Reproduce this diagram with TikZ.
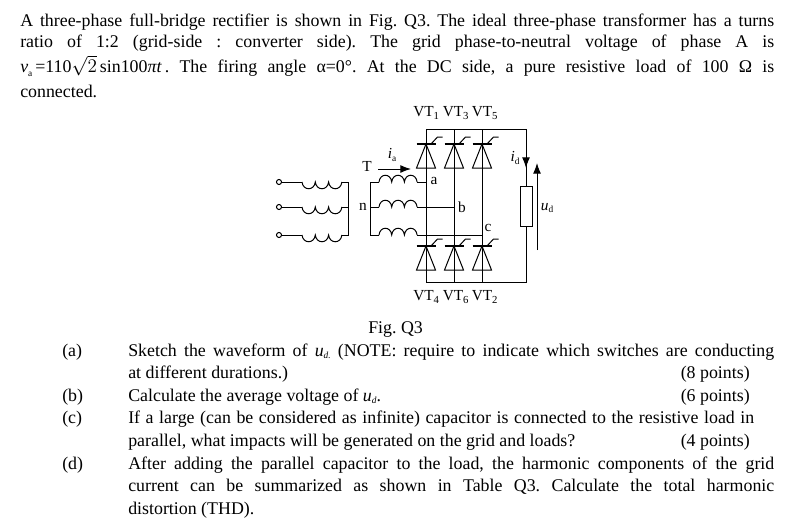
\documentclass[tikz,border=0pt]{standalone}
\usepackage{fontspec}
\setmainfont{Liberation Serif}
\usetikzlibrary{arrows.meta}
\tikzset{
  txt/.style={anchor=base west,inner sep=0pt,font=\fontsize{13.4}{15}\selectfont\frenchspacing},
  lab/.style={inner sep=0pt,font=\fontsize{11.5}{12}\selectfont},
  wire/.style={line width=0.75pt},
  arr/.style={line width=0.75pt,-{Latex[length=8pt,width=6pt]}}
}
% one stretched line of text
\newcommand{\fulline}[5]{\node[txt] (#1) at (#2,#3) {\spaceskip=.18em plus 1fil\relax\makebox[\dimexpr #4pt*3/4\relax][s]{#5}};}
% thyristor with the bar on top, #1 is the point of the bar
\newcommand{\thyr}[1]{
  \draw[line width=1pt] (#1) ++(-9.5,0) -- ++(19,0);
  \draw[wire] (#1) -- ++(-9.5,24) -- ++(19,0) -- cycle;
  \draw[wire] (#1) ++(5,0) -- ++(6.5,-7) -- ++(5,0);
}
% secondary winding, bumps up
\newcommand{\coilup}[1]{
  \draw[wire] (#1) \foreach \i in {1,2,3} {.. controls +(1,-9) and +(-1,-9) .. ++(12.7,0)};
}
% primary winding, bumps down
\newcommand{\coildown}[1]{
  \draw[wire] (#1) \foreach \i in {1,2,3} {.. controls +(1,9) and +(-1,9) .. ++(13.3,0)};
}
\begin{document}
\begin{tikzpicture}[x=0.75pt,y=-0.75pt]
  \useasboundingbox (0,0) rectangle (795,517);
  \fill[white] (0,0) rectangle (795,517);
  %question text
  \fulline{top1}{20}{26.5}{754}{A three-phase full-bridge rectifier is shown in Fig. Q3. The ideal three-phase transformer has a turns}
  \fulline{top2}{20}{48}{754}{ratio of 1:2 (grid-side : converter side). The grid phase-to-neutral voltage of phase A is}
  \fulline{top3}{20}{73}{754}{\textit{v}\raisebox{-3pt}{\scriptsize a}\,=110\smash{$\sqrt{2}$}\,sin100\textit{πt}\,. The firing angle α=0°. At the DC side, a pure resistive load of 100 Ω is}
  \node[txt] (top4) at (20,97) {connected.};
  %
  \coordinate (tl) at (426,129.5);
  \coordinate (tm) at (454,129.5);
  \coordinate (tr) at (482,129.5);
  \coordinate (tload) at (526,129.5);
  \coordinate (bl) at (426,282.5);
  \coordinate (bm) at (454,282.5);
  \coordinate (br) at (482,282.5);
  \coordinate (bload) at (526,282.5);
  \coordinate (a) at (426,182);
  \coordinate (b) at (454,207);
  \coordinate (c) at (482,235);
  \coordinate (sa) at (379,182);
  \coordinate (sb) at (379,207);
  \coordinate (sc) at (379,235);
  \coordinate (ea) at (417,182);
  \coordinate (eb) at (417,207);
  \coordinate (ec) at (417,235);
  \coordinate (na) at (370,182);
  \coordinate (nb) at (370,207);
  \coordinate (nc) at (370,235);
  \coordinate (pa) at (302,182);
  \coordinate (pb) at (302,207);
  \coordinate (pc) at (302,235);
  \coordinate (qa) at (342,182);
  \coordinate (qb) at (342,207);
  \coordinate (qc) at (342,235);
  \coordinate (ra) at (348,182);
  \coordinate (rb) at (348,207);
  \coordinate (rc) at (348,235);
  %bridge
  \draw[wire] (tl) -- (tload) -- (bload) -- (bl) -- cycle;
  \draw[wire] (tm) -- (bm);
  \draw[wire] (tr) -- (br);
  \node[draw,fill=white,wire,minimum width=9pt,minimum height=30.5pt,inner sep=0pt] (rload) at (526,206.5) {};
  \coordinate (t1) at (426,144);
  \coordinate (t3) at (454,144);
  \coordinate (t5) at (482,144);
  \coordinate (t4) at (426,246);
  \coordinate (t6) at (454,246);
  \coordinate (t2) at (482,246);
  \foreach \t in {t1,t3,t5,t4,t6,t2} {\thyr{\t}}
  %windings
  \coilup{sa}
  \coilup{sb}
  \coilup{sc}
  \coildown{pa}
  \coildown{pb}
  \coildown{pc}
  \draw[wire] (sa) -- (na) -- (nc) -- (sc);
  \draw[wire] (nb) -- (sb);
  \draw[wire] (ea) -- (a);
  \draw[wire] (eb) -- (b);
  \draw[wire] (ec) -- (c);
  \draw[wire] (qa) -- (ra) -- (rc) -- (qc);
  \draw[wire] (qb) -- (rb);
  \node[draw,circle,wire,fill=white,minimum size=3.8pt,inner sep=0pt] (ina) at (279,182) {};
  \node[draw,circle,wire,fill=white,minimum size=3.8pt,inner sep=0pt] (inb) at (279,207) {};
  \node[draw,circle,wire,fill=white,minimum size=3.8pt,inner sep=0pt] (inc) at (279,235) {};
  \draw[wire] (ina) -- (pa);
  \draw[wire] (inb) -- (pb);
  \draw[wire] (inc) -- (pc);
  %arrows
  \coordinate (ia1) at (378,169);
  \coordinate (ia2) at (411,169);
  \draw[arr] (ia1) -- (ia2);
  \coordinate (id1) at (526,150);
  \coordinate (id2) at (526,168);
  \draw[arr] (id1) -- (id2);
  \coordinate (ud1) at (537,250);
  \coordinate (ud2) at (537,163);
  \draw[arr] (ud1) -- (ud2);
  %labels
  \node[lab] (vt1) at (426.5,113) {VT\textsubscript{1}};
  \node[lab] (vt3) at (456,113) {VT\textsubscript{3}};
  \node[lab] (vt5) at (485,113) {VT\textsubscript{5}};
  \node[lab] (vt4) at (426.5,297) {VT\textsubscript{4}};
  \node[lab] (vt6) at (456,297) {VT\textsubscript{6}};
  \node[lab] (vt2) at (485,297) {VT\textsubscript{2}};
  \node[lab] (lT) at (367,166) {T};
  \node[lab] (lia) at (392,155) {\textit{i}\raisebox{-2pt}{\scriptsize a}};
  \node[lab] (lid) at (515,158) {\textit{i}\raisebox{-2pt}{\scriptsize d}};
  \node[lab] (lud) at (547,208) {\textit{u}\raisebox{-2pt}{\scriptsize d}};
  \node[lab] (la) at (434,181) {a};
  \node[lab] (lb) at (462,207) {b};
  \node[lab] (lc) at (488,228) {c};
  \node[lab] (ln) at (363,207) {n};
  %parts of the question
  \node[txt] (fig) at (368,333) {Fig. Q3};
  \node[txt] (pa1) at (62,356) {(a)};
  \fulline{qa1}{128}{356}{646}{Sketch the waveform of \textit{u}\textit{\raisebox{-1.5pt}{\scriptsize d.}} (NOTE: require to indicate which switches are conducting}
  \node[txt] (qa2) at (128,378) {at different durations.)};
  \node[txt,anchor=base east] (pts8) at (750,378) {(8 points)};
  \node[txt] (pb1) at (62,401) {(b)};
  \node[txt] (qb1) at (128,401) {Calculate the average voltage of \textit{u}\textit{\raisebox{-1.5pt}{\scriptsize d}}.};
  \node[txt,anchor=base east] (pts6) at (750,401) {(6 points)};
  \node[txt] (pc1) at (62,423) {(c)};
  \fulline{qc1}{128}{423}{626}{If a large (can be considered as infinite) capacitor is connected to the resistive load in}
  \node[txt] (qc2) at (128,446) {parallel, what impacts will be generated on the grid and loads?};
  \node[txt,anchor=base east] (pts4) at (750,446) {(4 points)};
  \node[txt] (pd1) at (62,469) {(d)};
  \fulline{qd1}{128}{469}{646}{After adding the parallel capacitor to the load, the harmonic components of the grid}
  \fulline{qd2}{128}{491}{646}{current can be summarized as shown in Table Q3. Calculate the total harmonic}
  \node[txt] (qd3) at (128,514) {distortion (THD).};
\end{tikzpicture}
\end{document}
